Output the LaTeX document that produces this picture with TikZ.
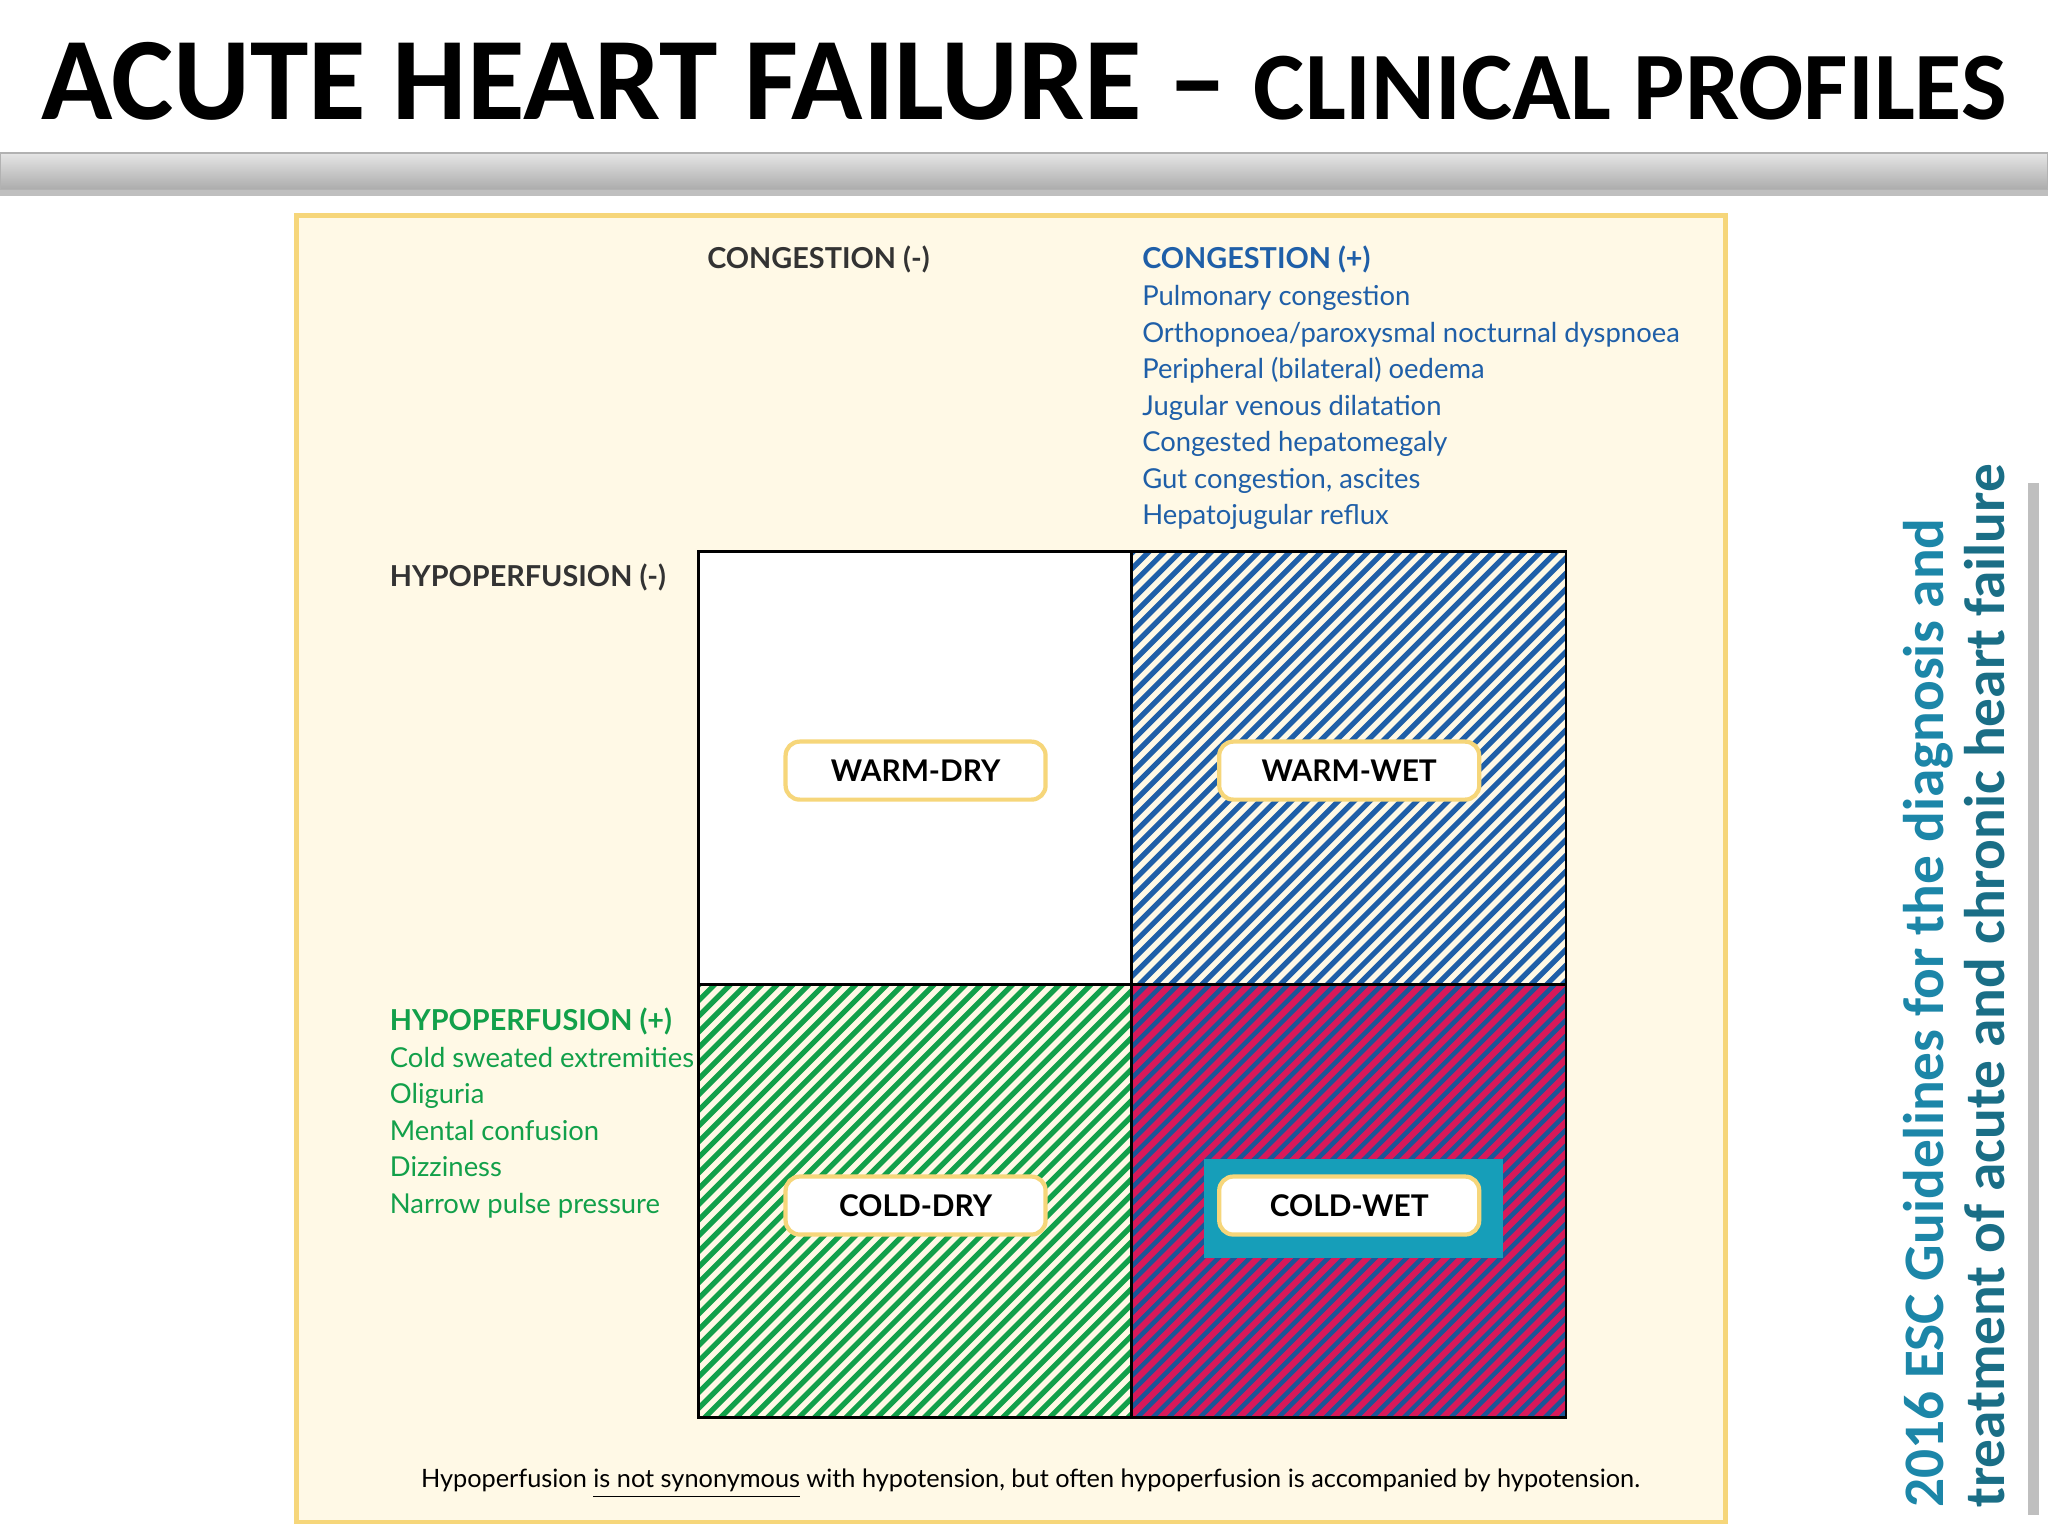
\documentclass[tikz,border=0pt]{standalone}
\usepackage{fontspec}
\setmainfont{Lato}
\newfontfamily\titlefont{Carlito}
\usetikzlibrary{positioning}
\definecolor{cream}{HTML}{FFF9E6}
\definecolor{frameyel}{HTML}{F6D67A}
\definecolor{hfblue}{HTML}{1F5FA8}
\definecolor{hfgreen}{HTML}{12A04A}
\definecolor{hfred}{HTML}{D8195A}
\definecolor{escteal}{HTML}{1C86A8}
\definecolor{escdark}{HTML}{1A6E86}
\begin{document}
\begin{tikzpicture}[x=0.01306cm, y=-0.01306cm]
  \tikzstyle{profile} = [draw=frameyel, very thick, fill=white, rounded corners=4pt,
    minimum width=2.6cm, minimum height=0.58cm, font=\bfseries\fontsize{8.5}{10}\selectfont]
  \tikzstyle{head} = [anchor=north west, font=\bfseries\fontsize{8.2}{10}\selectfont, inner sep=0pt]
  \tikzstyle{list} = [anchor=north west, align=left, font=\fontsize{7.8}{10.4}\selectfont, inner sep=0pt]
  \tikzstyle{stripe} = [line width=1.5pt]

  \useasboundingbox[fill=white] (0,0) rectangle (1568,1176);

  % title and bar
  \node[font=\titlefont\bfseries, inner sep=0pt] (title) at (784,62)
    {\fontsize{33.5}{38}\selectfont ACUTE HEART FAILURE – \fontsize{27.5}{32}\selectfont CLINICAL PROFILES};
  \fill[gray!50] (0,122) rectangle (1568,150);
  \shade[top color=gray!20, bottom color=gray!65] (0,117) rectangle (1568,145);
  \draw[gray!60] (0,117) rectangle (1568,145);

  % panel
  \draw[draw=frameyel, fill=cream, line width=1.2pt] (227,165) rectangle (1321,1165);

  % quadrants
  \fill[white] (535,422) rectangle (866,754);
  \begin{scope}
    \clip (866,422) rectangle (1199,754);
    \foreach \k in {-348,-336,...,348} \draw[stripe, hfblue] (866+\k,760) -- ++(350,-350);
  \end{scope}
  \begin{scope}
    \clip (535,754) rectangle (866,1085);
    \foreach \k in {-348,-336,...,348} \draw[stripe, hfgreen] (535+\k,1090) -- ++(350,-350);
  \end{scope}
  \begin{scope}
    \clip (866,754) rectangle (1199,1085);
    \fill[hfred] (866,754) rectangle (1199,1085);
    \foreach \k in {-348,-336,...,348} \draw[stripe, line width=1.3pt, hfblue!90!black] (866+\k,1090) -- ++(350,-350);
  \end{scope}
  \draw[thick] (535,422) rectangle (1199,1085);
  \draw[thick] (866,422) -- (866,1085);
  \draw[thick] (535,754) -- (1199,754);

  % profile labels
  \node[profile] (warmdry) at (701,590) {WARM-DRY};
  \node[profile] (warmwet) at (1033,590) {WARM-WET};
  \node[profile] (colddry) at (701,923) {COLD-DRY};
  \fill[escteal!80!cyan] (922,887) rectangle (1151,963);
  \node[profile] (coldwet) at (1033,923) {COLD-WET};

  % axis headings
  \node[head, text=black!80] (congminus) at (541,188) {CONGESTION (-)};
  \node[head, text=hfblue] (congplus) at (874,188) {CONGESTION (+)};
  \node[list, text=hfblue, below=3pt of congplus.south west, anchor=north west] (conglist)
    {Pulmonary congestion\\ Orthopnoea/paroxysmal nocturnal dyspnoea\\
     Peripheral (bilateral) oedema\\ Jugular venous dilatation\\
     Congested hepatomegaly\\ Gut congestion, ascites\\ Hepatojugular reflux};
  \node[head, text=black!80] (hypominus) at (298,431) {HYPOPERFUSION (-)};
  \node[head, text=hfgreen] (hypoplus) at (298,771) {HYPOPERFUSION (+)};
  \node[list, text=hfgreen, below=3pt of hypoplus.south west, anchor=north west] (hypolist)
    {Cold sweated extremities\\ Oliguria\\ Mental confusion\\
     Dizziness\\ Narrow pulse pressure};

  % footnote
  \node[font=\fontsize{7.2}{9}\selectfont, inner sep=0pt] (note) at (789,1136)
    {Hypoperfusion \underline{is not synonymous} with hypotension, but often hypoperfusion is accompanied by hypotension.};

  % side reference
  \draw[gray!50, line width=3pt] (1557,370) -- (1557,1160);
  \node[rotate=90, anchor=west, align=left, inner sep=0pt, font=\titlefont\bfseries\fontsize{16.3}{17.5}\selectfont]
    (esc) at (1496,1155) {\textcolor{escteal}{2016 ESC Guidelines for the diagnosis and}\\
    \textcolor{escdark}{treatment of acute and chronic heart failure}};
\end{tikzpicture}
\end{document}
